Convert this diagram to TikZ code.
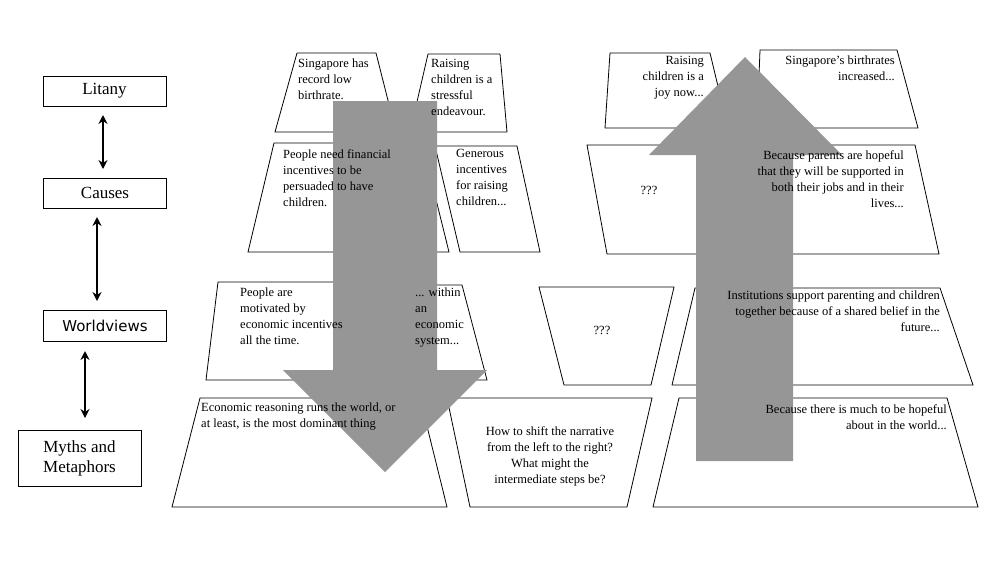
\documentclass[tikz,border=0pt]{standalone}
\usepackage{fontspec}
\setmainfont{Liberation Serif}
\newfontfamily\labelsans{DejaVu Sans}
\usepackage{tikz}
\usetikzlibrary{arrows.meta,positioning}
\definecolor{arrowgray}{RGB}{150,150,150}
\newcommand{\txtsize}{\fontsize{12.5}{16}\selectfont}

\begin{document}
\begin{tikzpicture}[x=1pt, y=-1pt,
        panel/.style = {draw, line width=0.8pt, line join=miter},
        txt/.style = {inner sep=0pt, font=\txtsize, align=left},
        txtr/.style = {inner sep=0pt, font=\txtsize, align=right},
        level/.style = {draw, line width=0.8pt, minimum width=123pt, inner sep=2pt, font=\fontsize{17}{20}\selectfont},
        link/.style = {{Stealth[length=9pt,width=9pt]}-{Stealth[length=9pt,width=9pt]}, line width=2.8pt}]
                \useasboundingbox (0,0) rectangle (1000,563);
                % levels
                \node[level, minimum height=30pt] (litany) at (104.5,91) {Litany};
                \node[level, minimum height=30pt] (causes) at (105,193) {Causes};
                \node[level, minimum height=31pt, font=\labelsans\fontsize{15}{18}\selectfont] (world) at (105,325.5) {Worldviews};
                \node[level, minimum height=56pt, align=center] (myths) at (79.5,458) {Myths and\\Metaphors};
                \draw[link] (103,115) -- (103,169);
                \draw[link] (97,217) -- (97,301);
                \draw[link] (85,351) -- (85,418);

                % panels
                \draw[panel] (297,53) -- (376,53) -- (396,132) -- (275,132) -- cycle;
                \draw[panel] (428,54) -- (500,54) -- (507,132) -- (410,132) -- cycle;
                \draw[panel] (274,143) -- (422,143) -- (449,252) -- (248,252) -- cycle;
                \draw[panel] (435,146) -- (517,146) -- (540,252) -- (460,252) -- cycle;
                \draw[panel] (610,53) -- (710,53) -- (728,128) -- (605,128) -- cycle;
                \draw[panel] (760,50) -- (897,50) -- (918,128) -- (757,128) -- cycle;
                \draw[panel] (587,145) -- (721,145) -- (708,254) -- (607,254) -- cycle;
                \draw[panel] (735,145) -- (915,145) -- (939,254) -- (712,254) -- cycle;
                \draw[panel] (218,282) -- (368,282) -- (383,380) -- (206,380) -- cycle;
                \draw[panel] (390,285) -- (462,285) -- (487,380) -- (405,380) -- cycle;
                \draw[panel] (539,287) -- (674,287) -- (651,385) -- (564,385) -- cycle;
                \draw[panel] (695,288) -- (940,288) -- (973,385) -- (672,385) -- cycle;
                \draw[panel] (200,398) -- (420,398) -- (447,507) -- (172,507) -- cycle;
                \draw[panel] (447,398) -- (652,398) -- (627,507) -- (470,507) -- cycle;
                \draw[panel] (679,398) -- (947,398) -- (978,507) -- (653,507) -- cycle;

                % arrows
                \fill[arrowgray] (333,101) -- (437,101) -- (437,370) -- (487,370) -- (385,472)
                    -- (283,370) -- (333,370) -- cycle;
                \fill[arrowgray] (696,461) -- (793,461) -- (793,155) -- (842,155) -- (745,57)
                    -- (649,155) -- (696,155) -- cycle;

                % texts
                \node[txt, anchor=north west] (t1) at (298,59) {Singapore has\\record low\\birthrate.};
                \node[txt, anchor=north west] (t2) at (431,59) {Raising\\children is a\\stressful\\endeavour.};
                \node[txt, anchor=north west] (t3) at (283,149) {People need financial\\incentives to be\\persuaded to have\\children.};
                \node[txt, anchor=north west] (t4) at (456,149) {Generous\\incentives\\for raising\\children...};
                \node[txtr, anchor=north east] (t5) at (704,56) {Raising\\children is a\\joy now...};
                \node[txtr, anchor=north east] (t6) at (895,56) {Singapore's birthrates\\increased...};
                \node[txt] (t7) at (649,190) {???};
                \node[txtr, anchor=north east] (t8) at (904,150) {Because parents are hopeful\\that they will be supported in\\both their jobs and in their\\lives...};
                \node[txt, anchor=north west] (t9) at (240,288) {People are\\motivated by\\economic incentives\\all the time.};
                \node[txt, anchor=north west] (t10) at (415,288) {... within\\an\\economic\\system...};
                \node[txt] (t11) at (602,330) {???};
                \node[txtr, anchor=north east] (t12) at (940,291) {Institutions support parenting and children\\together because of a shared belief in the\\future...};
                \node[txt, anchor=north west] (t13) at (201,403) {Economic reasoning runs the world, or\\at least, is the most dominant thing};
                \node[txt, align=center, anchor=north] (t14) at (550,426) {How to shift the narrative\\from the left to the right?\\What might the\\intermediate steps be?};
                \node[txtr, anchor=north east] (t15) at (947,404) {Because there is much to be hopeful\\about in the world...};

        \end{tikzpicture}
\end{document}
